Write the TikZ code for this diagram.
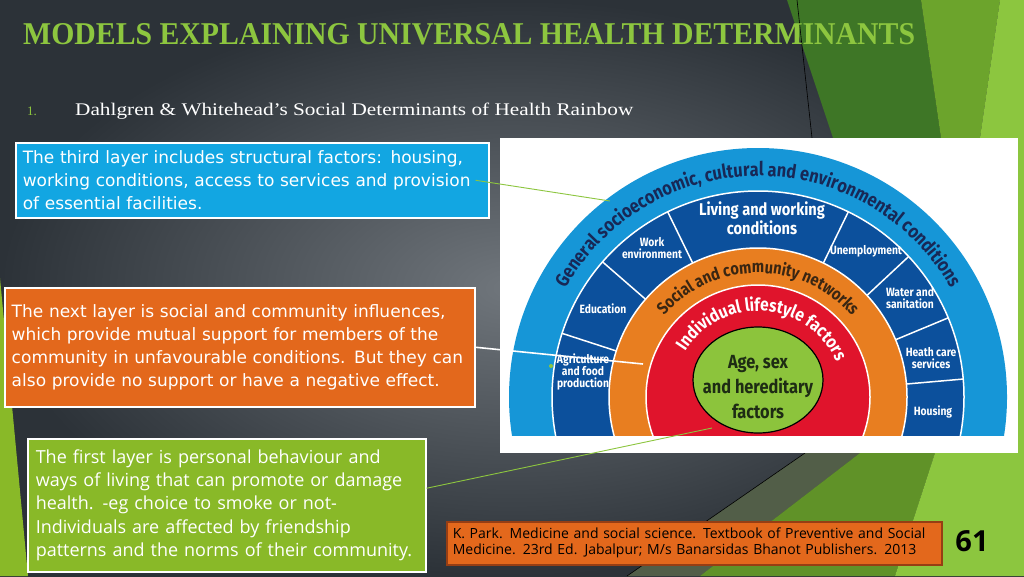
\documentclass[tikz,border=0pt]{standalone}
\usepackage{fontspec}
\setmainfont{Liberation Serif}
\newfontfamily\boxfont{DejaVu Sans}
\newfontfamily\condfont{Open Sans}
\newfontfamily\diafont[FakeStretch=0.86]{Fira Sans}
\newfontfamily\numfont{Open Sans}
\usetikzlibrary{decorations.text,shapes.geometric}
\definecolor{bgin}{RGB}{112,118,124}
\definecolor{bgout}{RGB}{44,50,56}
\definecolor{titlegreen}{RGB}{141,198,63}
\definecolor{fdark}{RGB}{62,118,38}
\definecolor{fmid}{RGB}{108,164,44}
\definecolor{flight}{RGB}{140,198,63}
\definecolor{folive}{RGB}{82,94,72}
\definecolor{fbmid}{RGB}{96,146,40}
\definecolor{boxblue}{RGB}{18,166,226}
\definecolor{boxorange}{RGB}{227,104,28}
\definecolor{boxgreen}{RGB}{137,185,40}
\definecolor{citeborder}{RGB}{150,62,20}
\definecolor{rbLight}{RGB}{22,150,215}
\definecolor{rbDark}{RGB}{12,80,156}
\definecolor{rbOrange}{RGB}{232,126,32}
\definecolor{rbRed}{RGB}{224,20,44}
\definecolor{rbGreen}{RGB}{140,196,60}
\definecolor{navytext}{RGB}{24,40,86}
\definecolor{browntext}{RGB}{58,38,18}
\definecolor{agetext}{RGB}{30,44,20}
\tikzset{
  infobox/.style={anchor=north west, draw=white, line width=1.5pt, inner ysep=0pt, align=left, text=white},
  seclab/.style={text=white, align=center, inner sep=0pt, font=\diafont\bfseries\fontsize{12}{12}\selectfont},
  thinlink/.style={draw=titlegreen, line width=0.9pt},
  whitelink/.style={draw=white, line width=1.6pt}
}
\begin{document}
\begin{tikzpicture}[x=1pt,y=-1pt]
\useasboundingbox (0,0) rectangle (1024,576);
\shade[inner color=bgin, outer color=bgout] (0,0) rectangle (1024,576);
% facets
\fill[fdark] (787,0) -- (921,0) -- (941,138) -- (833,138) -- cycle;
\fill[fmid] (921,0) -- (1000,0) -- (980,138) -- (941,138) -- cycle;
\fill[flight] (1000,0) -- (1024,0) -- (1024,138) -- (980,138) -- cycle;
\fill[flight] (1000,138) rectangle (1024,453);
\fill[folive] (805,453) -- (860,453) -- (700,576) -- (627,576) -- cycle;
\fill[fbmid] (860,453) -- (935,453) -- (895,576) -- (700,576) -- cycle;
\fill[flight] (935,453) -- (1024,453) -- (1024,576) -- (895,576) -- cycle;
\fill[boxgreen] (0,278) -- (28,576) -- (0,576) -- cycle;
\draw[black, line width=0.6pt] (797,0) -- (812,138);
\draw[black, line width=0.6pt] (805,453) -- (627,576);
% title
\node[anchor=base west, inner sep=0pt, text=titlegreen] (title) at (23,44)
  {\resizebox{892pt}{21pt}{\bfseries MODELS EXPLAINING UNIVERSAL HEALTH DETERMINANTS}};
\node[anchor=base west, inner sep=0pt, text=titlegreen, font=\fontsize{13}{13}\selectfont] (num) at (27,115) {1.};
\node[anchor=base west, inner sep=0pt, text=white] (subtitle) at (75,115)
  {\resizebox{558pt}{12.5pt}{Dahlgren \& Whitehead’s Social Determinants of Health Rainbow}};
% diagram panel
\node[fill=white, anchor=north west, minimum width=518pt, minimum height=315pt, inner sep=0pt] (panel) at (500,138) {};
\begin{scope}[shift={(758,397)}, yscale=-1]
  \begin{scope}
    \clip (-260,-38) rectangle (260,260);
    \fill[rbLight] (0,0) circle[radius=249];
    \fill[rbDark] (0,0) circle[radius=206];
    \draw[white, line width=1.5pt] (0,0) circle[radius=206];
    \foreach \a in {162,139,116,64,43,22.6,5}
      \draw[white, line width=1.5pt] (\a:148) -- (\a:206);
    \fill[rbOrange] (0,0) circle[radius=149];
    \draw[white, line width=1.5pt] (0,0) circle[radius=149];
    \fill[rbRed] (0,0) circle[radius=112];
    \draw[white, line width=1.5pt] (0,0) circle[radius=112];
  \end{scope}
  \path[decorate, decoration={text along path, text align=center,
     text={|\diafont\bfseries\fontsize{19}{19}\selectfont\color{navytext}|General socioeconomic, cultural and environmental conditions}}]
     (178:221) arc[start angle=178, end angle=2, radius=221];
  \path[decorate, decoration={text along path, text align=center,
     text={|\diafont\bfseries\fontsize{17}{17}\selectfont\color{browntext}|Social and community networks}}]
     (175:124) arc[start angle=175, end angle=5, radius=124];
  \path[decorate, decoration={text along path, text align=center,
     text={|\diafont\bfseries\fontsize{18}{18}\selectfont\color{white}|Individual lifestyle factors}}]
     (172:86) arc[start angle=172, end angle=0, radius=86];
\end{scope}
\node[ellipse, fill=rbGreen, draw=black, line width=1.2pt, minimum width=130pt, minimum height=106pt, inner sep=0pt] (core) at (758,380) {};
\node[text=agetext, align=center, font=\diafont\bfseries\fontsize{19}{25}\selectfont, inner sep=0pt] (coretext) at (758,387) {Age, sex\\and hereditary\\factors};
% sector labels
\node[seclab] (agri) at (583,372) {Agriculture\\and food\\production};
\node[seclab] (edu) at (603,309) {Education};
\node[seclab] (work) at (652,248) {Work\\environment};
\node[seclab, font=\diafont\bfseries\fontsize{17}{16}\selectfont] (living) at (762,218) {Living and working\\conditions};
\node[seclab] (unemp) at (866,251) {Unemployment};
\node[seclab] (water) at (910,298) {Water and\\sanitation};
\node[seclab] (health) at (931,358) {Heath care\\services};
\node[seclab] (housing) at (933,412) {Housing};
% text boxes
\node[infobox, fill=boxblue, text width=459pt, inner xsep=7pt, minimum height=75pt,
  font=\boxfont\fontsize{17}{23}\selectfont] (bluebox) at (15,142)
  {The third layer includes structural factors: housing,\\working conditions, access to services and provision\\of essential facilities.};
\node[infobox, fill=boxorange, text width=456pt, inner xsep=7pt, minimum height=119pt,
  font=\boxfont\fontsize{17}{23}\selectfont] (orangebox) at (4,287)
  {The next layer is social and community influences,\\which provide mutual support for members of the\\community in unfavourable conditions. But they can\\also provide no support or have a negative effect.};
\node[infobox, fill=boxgreen, text width=382pt, inner xsep=8pt, minimum height=133pt,
  font=\condfont\fontsize{18}{23.2}\selectfont] (greenbox) at (27,438)
  {The first layer is personal behaviour and\\ways of living that can promote or damage\\health. -eg choice to smoke or not-\\Individuals are affected by friendship\\patterns and the norms of their community.};
\node[anchor=north west, fill=boxorange, draw=citeborder, line width=1.5pt, text width=483pt, inner xsep=6pt, inner ysep=0pt,
  minimum height=43pt, align=left, text=black, font=\condfont\fontsize{14}{16}\selectfont] (cite) at (446,521)
  {K. Park. Medicine and social science. Textbook of Preventive and Social\\Medicine. 23rd Ed. Jabalpur; M/s Banarsidas Bhanot Publishers. 2013};
\node[text=black, inner sep=0pt, font=\numfont\bfseries\fontsize{29}{29}\selectfont] (pagenum) at (972,541) {61};
% connectors
\coordinate (c1) at (610,201);
\coordinate (c2) at (643,364);
\coordinate (c3) at (712,428);
\draw[thinlink] ([xshift=-14pt]bluebox.east) -- (c1);
\draw[whitelink] (orangebox.east) -- (c2);
\draw[thinlink] ([yshift=17pt]greenbox.east) -- (c3);
\node[circle, fill=titlegreen, inner sep=0pt, minimum size=4pt] (dot) at (551,366) {};
\end{tikzpicture}
\end{document}
